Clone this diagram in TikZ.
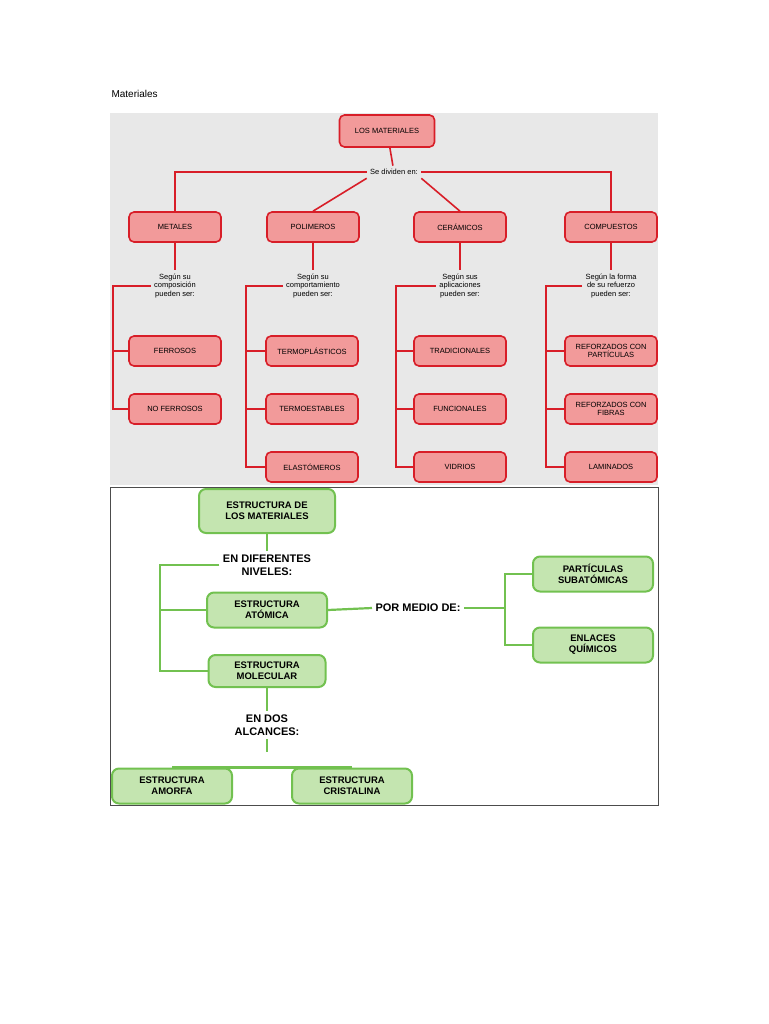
\documentclass[tikz,border=0pt]{standalone}
\usepackage{fontspec}
\setmainfont{Liberation Sans}
\usetikzlibrary{positioning}
\definecolor{redline}{HTML}{D81E28}
\definecolor{redfill}{HTML}{F29A9A}
\definecolor{greenline}{HTML}{72C150}
\definecolor{greenfill}{HTML}{C4E5B0}
\tikzset{
  rbox/.style={draw=redline, line width=1.6pt, fill=redfill, rounded corners=5pt,
    minimum width=92pt, minimum height=30pt, align=center, font=\fontsize{7.5}{8.5}\selectfont},
  gbox/.style={draw=greenline, line width=2pt, fill=greenfill, rounded corners=7pt,
    minimum width=120pt, minimum height=35pt, align=center, font=\fontsize{9.5}{11}\selectfont\bfseries},
  rtxt/.style={align=center, font=\fontsize{7.5}{8.5}\selectfont},
  gtxt/.style={align=center, font=\fontsize{11}{13}\selectfont\bfseries},
  rline/.style={draw=redline, line width=1.6pt},
  gline/.style={draw=greenline, line width=2.2pt}
}
\begin{document}
\begin{tikzpicture}[x=1pt,y=-1pt]
\useasboundingbox (0,0) rectangle (768,1024);
\node[anchor=west, font=\fontsize{10}{12}\selectfont] (title) at (108,94) {Materiales};

% top panel
\fill[black!9] (110,113) rectangle (658,485);
\node[rbox, minimum width=95pt, minimum height=32pt] (mat) at (387,131) {LOS MATERIALES};
\node[rtxt] (div) at (394,172) {Se dividen en:};
\node[rbox] (met) at (175,227) {METALES};
\node[rbox] (pol) at (313,227) {POLIMEROS};
\node[rbox] (cer) at (460,227) {CERÁMICOS};
\node[rbox] (com) at (611,227) {COMPUESTOS};
\node[rtxt] (tmet) at (175,286) {Según su\\composición\\pueden ser:};
\node[rtxt] (tpol) at (313,286) {Según su\\comportamiento\\pueden ser:};
\node[rtxt] (tcer) at (460,286) {Según sus\\aplicaciones\\pueden ser:};
\node[rtxt] (tcom) at (611,286) {Según la forma\\de su refuerzo\\pueden ser:};
\node[rbox] (fer) at (175,351) {FERROSOS};
\node[rbox] (nofer) at (175,409) {NO FERROSOS};
\node[rbox] (ter) at (312,351) {TERMOPLÁSTICOS};
\node[rbox] (tes) at (312,409) {TERMOESTABLES};
\node[rbox] (ela) at (312,467) {ELASTÓMEROS};
\node[rbox] (tra) at (460,351) {TRADICIONALES};
\node[rbox] (fun) at (460,409) {FUNCIONALES};
\node[rbox] (vid) at (460,467) {VIDRIOS};
\node[rbox] (rpa) at (611,351) {REFORZADOS CON\\PARTÍCULAS};
\node[rbox] (rfi) at (611,409) {REFORZADOS CON\\FIBRAS};
\node[rbox] (lam) at (611,467) {LAMINADOS};

\draw[rline] (mat) -- (div);
\draw[rline] (div.west) -| (met);
\draw[rline] (div.east) -| (com);
\draw[rline] (div.south west) -- (pol.north);
\draw[rline] (div.south east) -- (cer.north);
\foreach \a/\b in {met/tmet,pol/tpol,cer/tcer,com/tcom}
  \draw[rline] (\a) -- (\b);
\foreach \t/\x/\l in {tmet/113/nofer,tpol/246/ela,tcer/396/vid,tcom/546/lam}
  \draw[rline] (\t.west) -- (\x,286) |- (\l.west);
\foreach \x/\n in {113/fer,246/ter,246/tes,396/tra,396/fun,546/rpa,546/rfi}
  \draw[rline] (\x,0 |- \n.west) -- (\n.west);

% bottom panel
\draw[black!70, line width=0.8pt] (110,487) rectangle (658,805);
\node[gbox, minimum width=136pt, minimum height=44pt] (est) at (267,511) {ESTRUCTURA DE\\LOS MATERIALES};
\node[gtxt] (niv) at (267,565) {EN DIFERENTES\\NIVELES:};
\node[gbox] (ato) at (267,610) {ESTRUCTURA\\ATÓMICA};
\node[gbox, minimum width=117pt, minimum height=32pt] (mol) at (267,671) {ESTRUCTURA\\MOLECULAR};
\node[gtxt] (med) at (418,608) {POR MEDIO DE:};
\node[gbox] (par) at (593,574) {PARTÍCULAS\\SUBATÓMICAS};
\node[gbox] (enl) at (593,645) {ENLACES\\QUÍMICOS};
\node[gtxt] (alc) at (267,725) {EN DOS\\ALCANCES:};
\node[gbox] (amo) at (172,786) {ESTRUCTURA\\AMORFA};
\node[gbox] (cri) at (352,786) {ESTRUCTURA\\CRISTALINA};

\draw[gline] (est) -- (niv);
\draw[gline] (niv.west) -- (160,565) |- (mol.west);
\draw[gline] (160,610) -- (ato.west);
\draw[gline] (ato.east) -- (med.west);
\draw[gline] (med.east) -- (505,608);
\draw[gline] (par.west) -| (505,645) -- (enl.west);
\draw[gline] (mol) -- (alc);
\draw[gline] (alc.south) -- (267,752);
\draw[gline] (amo.north) |- (cri.north -| 267,752) -- (cri.north);
\end{tikzpicture}
\end{document}
